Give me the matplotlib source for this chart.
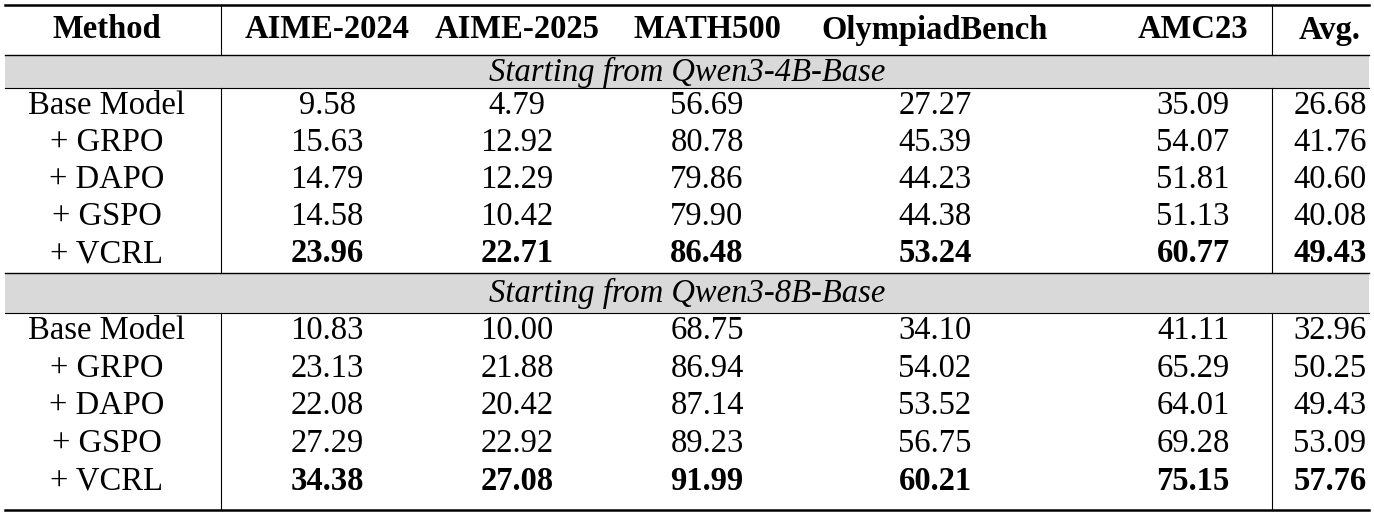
import matplotlib
matplotlib.use("Agg")
import matplotlib.pyplot as plt

columns = ["Method", "AIME-2024", "AIME-2025", "MATH500", "OlympiadBench", "AMC23", "Avg."]
sections = ["Starting from Qwen3-4B-Base", "Starting from Qwen3-8B-Base"]
methods = ["Base Model", "+ GRPO", "+ DAPO", "+ GSPO", "+ VCRL"]
vals_4b = [
    ["9.58", "4.79", "56.69", "27.27", "35.09", "26.68"],
    ["15.63", "12.92", "80.78", "45.39", "54.07", "41.76"],
    ["14.79", "12.29", "79.86", "44.23", "51.81", "40.60"],
    ["14.58", "10.42", "79.90", "44.38", "51.13", "40.08"],
    ["23.96", "22.71", "86.48", "53.24", "60.77", "49.43"],
]
vals_8b = [
    ["10.83", "10.00", "68.75", "34.10", "41.11", "32.96"],
    ["23.13", "21.88", "86.94", "54.02", "65.29", "50.25"],
    ["22.08", "20.42", "87.14", "53.52", "64.01", "49.43"],
    ["27.29", "22.92", "89.23", "56.75", "69.28", "53.09"],
    ["34.38", "27.08", "91.99", "60.21", "75.15", "57.76"],
]

W, H = 1374, 513
fig = plt.figure(figsize=(W/100, H/100), dpi=100)
ax = fig.add_axes([0, 0, 1, 1])
ax.set_xlim(0, W); ax.set_ylim(H, 0); ax.axis("off")
fam = "Liberation Serif"
fs = 23.5
xs = [107, 327, 517, 707, 935, 1193, 1330]

ax.plot([5, 1369], [5, 5], color="black", lw=1.8)
for x, c in zip(xs, columns):
    ax.text(x, 30, c, ha="center", va="center", fontsize=fs, family=fam, weight="bold")
ax.plot([5, 1369], [55, 55], color="black", lw=1.0)

def block(y0, y1, title, vals, ystart, step):
    ax.add_patch(plt.Rectangle((5, y0), 1364, y1-y0, color="#d9d9d9", lw=0))
    ax.text(687, (y0+y1)/2, title, ha="center", va="center", fontsize=fs, family=fam, style="italic")
    ax.plot([5, 1369], [y1, y1], color="black", lw=0.8)
    for i, (m, row) in enumerate(zip(methods, vals)):
        y = ystart + i*step
        bold = "bold" if i == 4 else "normal"
        ax.text(xs[0], y, m, ha="center", va="center", fontsize=fs, family=fam)
        for x, v in zip(xs[1:], row):
            ax.text(x, y, v, ha="center", va="center", fontsize=fs, family=fam, weight=bold)

block(56, 88, sections[0], vals_4b, 106, 37.0)
ax.plot([5, 1369], [273, 273], color="black", lw=1.0)
block(274, 313, sections[1], vals_8b, 331, 37.5)
ax.plot([5, 1369], [510, 510], color="black", lw=1.8)
for x in [221, 1272]:
    for a, b in [(5, 55), (88, 273), (313, 510)]:
        ax.plot([x, x], [a, b], color="black", lw=0.8)
fig.savefig("out.png", dpi=100)
